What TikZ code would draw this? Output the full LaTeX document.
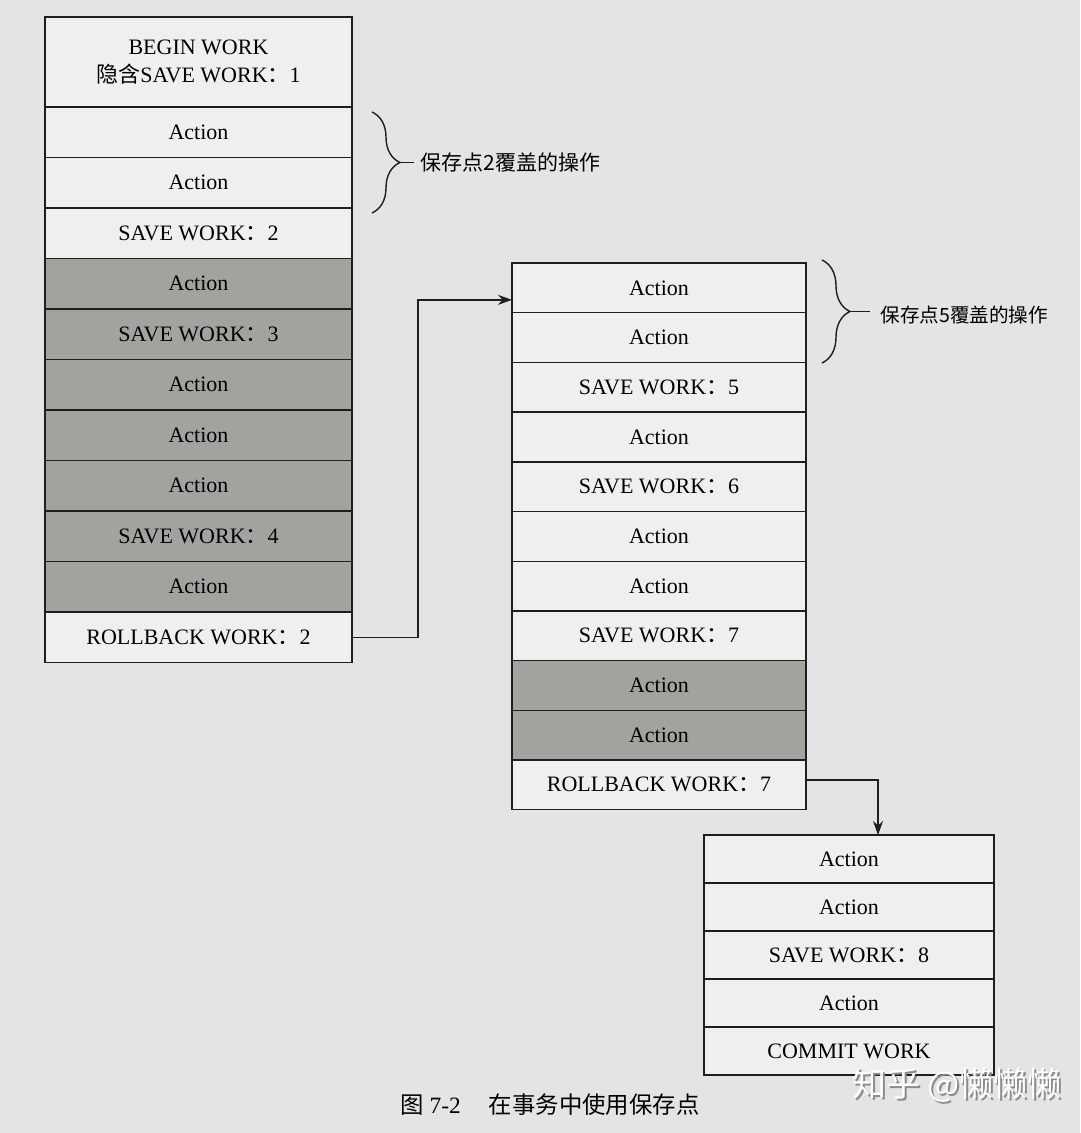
\documentclass[tikz,border=0pt]{standalone}
\usepackage{fontspec}
\setmainfont{Liberation Serif}
\newfontfamily\cjk{Noto Sans CJK SC}
\usetikzlibrary{decorations.pathreplacing,arrows.meta,calc}
\newcommand\fc{{\cjk ：}}
\definecolor{pagec}{HTML}{E2E4E6}
\definecolor{boxc}{HTML}{EFEFEF}
\definecolor{grayc}{HTML}{A2A29E}
\definecolor{linec}{HTML}{1E1E1E}
\begin{document}
\begin{tikzpicture}[x=0.5pt,y=-0.5pt,
  cellbase/.style={draw=linec, line width=0.7pt, fill=boxc, inner sep=0pt, outer sep=0pt, anchor=north west,
    align=center, font=\fontsize{11}{14}\selectfont, text=black},
  ca/.style={cellbase, minimum width=153.5pt, minimum height=25.25pt},
  cb/.style={cellbase, minimum width=147pt, minimum height=24.85pt},
  cc/.style={cellbase, minimum width=145pt, minimum height=24pt},
  shade/.style={fill=grayc},
  arr/.style={draw=linec, line width=0.7pt, -{Stealth[length=7pt,width=5pt]}},
  bracestyle/.style={draw=linec, line width=0.7pt, decorate, decoration={brace, amplitude=14pt}},
  lab/.style={anchor=west, inner sep=0pt}
]
\useasboundingbox[fill=pagec] (0,0) rectangle (1080,1133);

% column 1
\node[ca, minimum height=45pt] (a0) at (45,17) {BEGIN WORK\\{\cjk 隐含}SAVE WORK\fc 1};
\node[ca] (a1) at (a0.south west) {Action};
\node[ca] (a2) at (a1.south west) {Action};
\node[ca] (a3) at (a2.south west) {SAVE WORK\fc 2};
\node[ca, shade] (a4) at (a3.south west) {Action};
\node[ca, shade] (a5) at (a4.south west) {SAVE WORK\fc 3};
\node[ca, shade] (a6) at (a5.south west) {Action};
\node[ca, shade] (a7) at (a6.south west) {Action};
\node[ca, shade] (a8) at (a7.south west) {Action};
\node[ca, shade] (a9) at (a8.south west) {SAVE WORK\fc 4};
\node[ca, shade] (a10) at (a9.south west) {Action};
\node[ca] (a11) at (a10.south west) {ROLLBACK WORK\fc 2};

% column 2
\node[cb] (b1) at (512,263) {Action};
\node[cb] (b2) at (b1.south west) {Action};
\node[cb] (b3) at (b2.south west) {SAVE WORK\fc 5};
\node[cb] (b4) at (b3.south west) {Action};
\node[cb] (b5) at (b4.south west) {SAVE WORK\fc 6};
\node[cb] (b6) at (b5.south west) {Action};
\node[cb] (b7) at (b6.south west) {Action};
\node[cb] (b8) at (b7.south west) {SAVE WORK\fc 7};
\node[cb, shade] (b9) at (b8.south west) {Action};
\node[cb, shade] (b10) at (b9.south west) {Action};
\node[cb] (b11) at (b10.south west) {ROLLBACK WORK\fc 7};

% column 3
\node[cc] (c1) at (704,835) {Action};
\node[cc] (c2) at (c1.south west) {Action};
\node[cc] (c3) at (c2.south west) {SAVE WORK\fc 8};
\node[cc] (c4) at (c3.south west) {Action};
\node[cc] (c5) at (c4.south west) {COMMIT WORK};

% connectors
\draw[arr] (a11.east) -- ++(66,0) |- ([yshift=-6pt]b1.west);
\coordinate (k2) at (878,0);
\draw[arr] ([yshift=2.5pt]b11.east) -| (c1.north -| k2);

% braces
\draw[bracestyle] (372,112) -- (372,213);
\draw[draw=linec, line width=0.7pt] (400,162.5) -- (414,162.5);
\node[lab, font=\cjk\fontsize{10.5}{13}\selectfont] (l1) at (420,162) {保存点2覆盖的操作};
\draw[bracestyle] (822,260) -- (822,363);
\draw[draw=linec, line width=0.7pt] (850,311.5) -- (870,311.5);
\node[lab, font=\cjk\fontsize{9.8}{12}\selectfont] (l2) at (880,315) {保存点5覆盖的操作};

% caption
\node[font=\fontsize{11.7}{14}\selectfont, inner sep=0pt] (cap) at (550,1105) {{\cjk 图} 7-2\hspace{1.2em}{\cjk 在事务中使用保存点}};

% watermark
\node[font=\cjk\fontsize{17}{20}\selectfont, text=black!45, inner sep=0pt] (wms) at (959,1087) {知乎 @懒懒懒};
\node[font=\cjk\fontsize{17}{20}\selectfont, text=white, inner sep=0pt] (wm) at (957,1085) {知乎 @懒懒懒};
\end{tikzpicture}
\end{document}
